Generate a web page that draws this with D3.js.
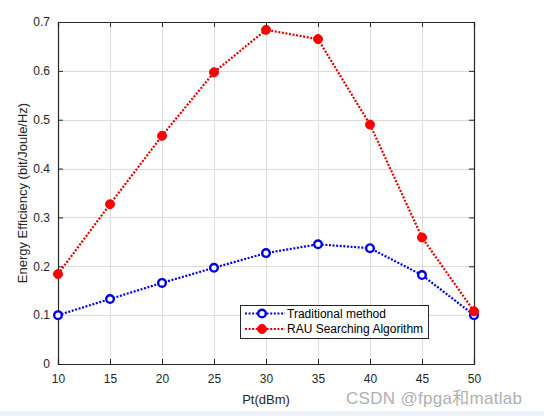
<!DOCTYPE html>
<html>
<head>
<meta charset="utf-8">
<script src="https://cdn.jsdelivr.net/npm/d3@7"></script>
<style>
  body { margin: 0; background: #fff; }
  svg { display: block; font-family: "Liberation Sans", Arial, sans-serif; }
</style>
</head>
<body>
<svg id="chart"></svg>
<script>
const pt = [10, 15, 20, 25, 30, 35, 40, 45, 50];
const traditional = [0.100, 0.133, 0.166, 0.197, 0.227, 0.245, 0.237, 0.182, 0.100];
const rauSearch = [0.184, 0.327, 0.467, 0.597, 0.684, 0.665, 0.490, 0.259, 0.108];
const xTicks = [10, 15, 20, 25, 30, 35, 40, 45, 50];
const yTicks = [0, 0.1, 0.2, 0.3, 0.4, 0.5, 0.6, 0.7];
const seriesNames = ['Traditional method', 'RAU Searching Algorithm'];

const width = 544, height = 416;
const margin = {left: 58, right: 70, top: 22, bottom: 52};
const axisColor = '#262626';

const svg = d3.select('#chart')
    .attr('width', width)
    .attr('height', height);

// light strip at the bottom of the page
svg.append('rect')
    .attr('x', 0).attr('y', 411)
    .attr('width', width).attr('height', 5)
    .attr('fill', '#eef2f9');

const x = d3.scaleLinear()
    .domain([10, 50])
    .range([margin.left, width - margin.right]);

const y = d3.scaleLinear()
    .domain([0, 0.7])
    .range([height - margin.bottom, margin.top]);

// grid
const grid = svg.append('g').attr('stroke', '#dcdcdc').attr('stroke-width', 1);
grid.selectAll('.gx')
  .data(xTicks.slice(1, -1))
  .join('line')
    .attr('x1', d => Math.round(x(d)) + 0.5).attr('x2', d => Math.round(x(d)) + 0.5)
    .attr('y1', y(0.7)).attr('y2', y(0));
grid.selectAll('.gy')
  .data(yTicks.slice(1, -1))
  .join('line')
    .attr('y1', d => Math.round(y(d)) + 0.5).attr('y2', d => Math.round(y(d)) + 0.5)
    .attr('x1', x(10)).attr('x2', x(50));

// axes (ticks inward, box on)
const tickLen = 5;
const xAxis = svg.append('g')
    .attr('transform', `translate(0,${y(0)})`)
    .call(d3.axisBottom(x).tickValues(xTicks).tickSize(-tickLen).tickPadding(8).tickFormat(d3.format('d')));
const yAxis = svg.append('g')
    .attr('transform', `translate(${x(10)},0)`)
    .call(d3.axisLeft(y).tickValues(yTicks).tickSize(-tickLen).tickPadding(8).tickFormat(d => d === 0 ? '0' : d3.format('.1f')(d)));
const xTop = svg.append('g')
    .attr('transform', `translate(0,${y(0.7)})`)
    .call(d3.axisTop(x).tickValues(xTicks).tickSize(-tickLen).tickFormat(''));
const yRight = svg.append('g')
    .attr('transform', `translate(${x(50)},0)`)
    .call(d3.axisRight(y).tickValues(yTicks).tickSize(-tickLen).tickFormat(''));

[xAxis, yAxis, xTop, yRight].forEach(a => {
  a.select('.domain').attr('stroke', axisColor).attr('stroke-width', 1.2);
  a.selectAll('.tick line').attr('stroke', axisColor);
  a.selectAll('text').attr('fill', axisColor).style('font-size', '12px').style('font-family', '"Liberation Sans", Arial, sans-serif');
});
xAxis.selectAll('.tick text').attr('dy', '0.95em');

// axis labels
svg.append('text')
    .attr('x', (x(10) + x(50)) / 2)
    .attr('y', 404)
    .attr('text-anchor', 'middle')
    .attr('fill', axisColor)
    .style('font-size', '13px')
    .text('Pt(dBm)');

svg.append('text')
    .attr('transform', `translate(27,${(y(0) + y(0.7)) / 2}) rotate(-90)`)
    .attr('text-anchor', 'middle')
    .attr('fill', axisColor)
    .style('font-size', '13px')
    .text('Energy Efficiency (bit/Joule/Hz)');

// series
const line = d3.line()
    .x(d => x(d[0]))
    .y(d => y(d[1]));

const series = [
  {name: seriesNames[0], values: traditional, color: '#0000e6', line: '#0000e6', fill: 'white'},
  {name: seriesNames[1], values: rauSearch, color: '#ff0000', line: '#e00000', fill: '#ff0000'}
];

function marker(sel, s) {
  sel.attr('r', s.fill === 'white' ? 3.8 : 4.5)
     .attr('fill', s.fill)
     .attr('stroke', s.color)
     .attr('stroke-width', s.fill === 'white' ? 2.4 : 1);
}

series.forEach(s => {
  const pts = pt.map((p, i) => [p, s.values[i]]);
  svg.append('path')
      .datum(pts)
      .attr('d', line)
      .attr('fill', 'none')
      .attr('stroke', s.line)
      .attr('stroke-width', 2.2)
      .attr('stroke-dasharray', '2,1.6');
  svg.append('g')
    .selectAll('circle')
    .data(pts)
    .join('circle')
      .attr('cx', d => x(d[0]))
      .attr('cy', d => y(d[1]))
      .call(marker, s);
});

// legend
const legend = svg.append('g').attr('transform', 'translate(240,305)');
legend.append('rect')
    .attr('x', 0.5).attr('y', 0.5)
    .attr('width', 188).attr('height', 33)
    .attr('fill', 'white')
    .attr('stroke', axisColor)
    .attr('stroke-width', 1);

series.forEach((s, i) => {
  const ly = 8.5 + i * 15.5;
  legend.append('line')
      .attr('x1', 5).attr('x2', 45)
      .attr('y1', ly).attr('y2', ly)
      .attr('stroke', s.line)
      .attr('stroke-width', 2.2)
      .attr('stroke-dasharray', '2,1.6');
  legend.append('circle')
      .attr('cx', 22).attr('cy', ly)
      .call(marker, s);
  legend.append('text')
      .attr('x', 47).attr('y', ly)
      .attr('dy', '0.35em')
      .attr('fill', '#000')
      .style('font-size', '12px')
      .text(s.name);
});

// watermark
svg.append('text')
    .attr('x', 346)
    .attr('y', 404)
    .attr('fill', '#b0b0b0')
    .style('font-size', '17px')
    .style('letter-spacing', '0.3px')
    .style('font-family', '"Liberation Sans", "Noto Sans CJK SC", sans-serif')
    .text('CSDN @fpga和matlab');
</script>
</body>
</html>
